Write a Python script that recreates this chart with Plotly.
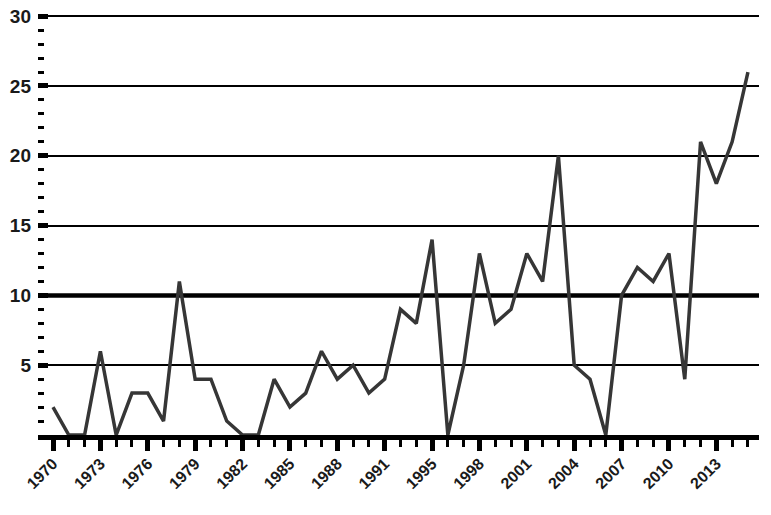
import plotly.graph_objects as go

years = [str(y) for y in list(range(1970, 1992)) + list(range(1993, 2016))]
values = [2, 0, 0, 6, 0, 3, 3, 1, 11, 4,
          4, 1, 0, 0, 4, 2, 3, 6, 4, 5,
          3, 4, 9, 8, 14, 0, 5, 13, 8, 9,
          13, 11, 20, 5, 4, 0, 10, 12, 11, 13,
          4, 21, 18, 21, 26]
y_ticks = [0, 5, 10, 15, 20, 25, 30]
y_ticklabels = ["", "5", "10", "15", "20", "25", "30"]

idx = list(range(len(years)))
x_tickvals = idx[::3]
x_ticktext = years[::3]

fig = go.Figure()
fig.add_trace(go.Scatter(
    x=idx, y=values, mode="lines",
    line=dict(color="#363636", width=3.5),
    cliponaxis=False, showlegend=False,
))

font = dict(family="Liberation Sans, Arial, sans-serif", color="#1a1a1a", weight="bold")

fig.update_layout(
    width=771, height=515,
    margin=dict(l=38, r=12, t=6, b=80),
    plot_bgcolor="white", paper_bgcolor="white",
    xaxis=dict(
        range=[-0.95, 44.7],
        tickvals=x_tickvals, ticktext=x_ticktext,
        tickangle=-45,
        tickfont=dict(size=16, **font),
        ticks="outside", ticklen=11, tickwidth=5, tickcolor="black",
        minor=dict(dtick=1, tick0=0, ticks="outside", ticklen=7,
                   tickwidth=2.5, tickcolor="black"),
        showline=True, linewidth=5, linecolor="black",
        showgrid=False, zeroline=False,
        ticklabelstandoff=-3,
    ),
    yaxis=dict(
        range=[0, 30.3],
        tickvals=y_ticks, ticktext=y_ticklabels,
        tickfont=dict(size=19, **font),
        ticks="inside", ticklen=10, tickwidth=5, tickcolor="black",
        minor=dict(dtick=1, tick0=0, ticks="inside", ticklen=6,
                   tickwidth=3, tickcolor="black", showgrid=False),
        showgrid=True, gridcolor="black", gridwidth=2,
        showline=False, zeroline=False,
        ticklabelstandoff=6,
        ticklabeloverflow="allow",
    ),
)
fig.add_hline(y=10, line=dict(color="black", width=4.5), layer="below")

fig.write_html("out.html")
